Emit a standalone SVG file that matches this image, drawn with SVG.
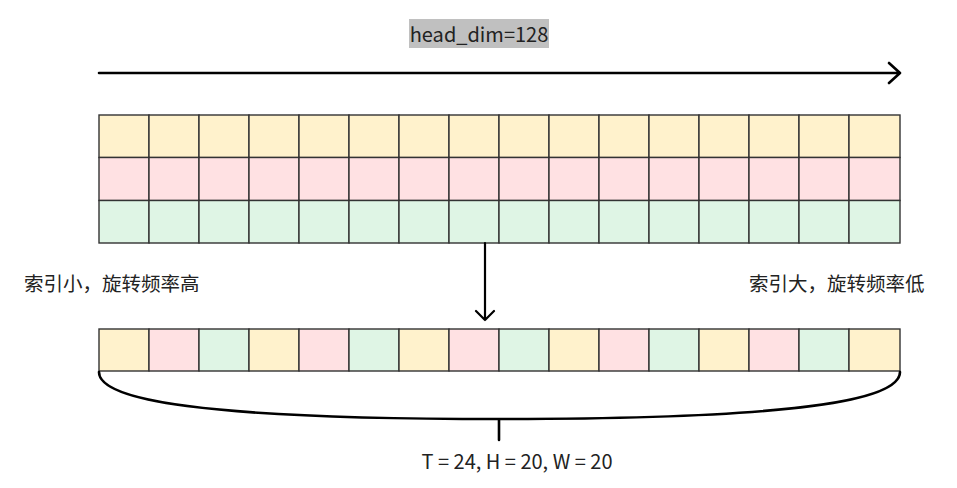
<svg xmlns="http://www.w3.org/2000/svg" width="957" height="488" viewBox="0 0 957 488">
<style>
.y{fill:#fff2cc}
.p{fill:#ffe1e3}
.g{fill:#dff5e5}
.cell rect{stroke:#333;stroke-width:1.4}
.t{font-family:"Noto Sans CJK SC","Noto Sans",sans-serif;fill:#222}
.ln{stroke:#000;fill:none;stroke-linecap:round;stroke-linejoin:round}
</style>
<rect width="957" height="488" fill="#fff"/>
<g id="title">
<rect x="409" y="19" width="140" height="29" fill="#c0c0c0"/>
<text class="t" x="479" y="42" font-size="20" text-anchor="middle">head_dim=128</text>
</g>
<g id="grid-top" class="cell">
<rect class="y" x="99" y="115" width="50" height="42.5"/><rect class="y" x="149" y="115" width="50" height="42.5"/><rect class="y" x="199" y="115" width="50" height="42.5"/><rect class="y" x="249" y="115" width="50" height="42.5"/><rect class="y" x="299" y="115" width="50" height="42.5"/><rect class="y" x="349" y="115" width="50" height="42.5"/><rect class="y" x="399" y="115" width="50" height="42.5"/><rect class="y" x="449" y="115" width="50" height="42.5"/><rect class="y" x="499" y="115" width="50" height="42.5"/><rect class="y" x="549" y="115" width="50" height="42.5"/><rect class="y" x="599" y="115" width="50" height="42.5"/><rect class="y" x="649" y="115" width="50" height="42.5"/><rect class="y" x="699" y="115" width="50" height="42.5"/><rect class="y" x="749" y="115" width="50" height="42.5"/><rect class="y" x="799" y="115" width="50" height="42.5"/><rect class="y" x="849" y="115" width="51" height="42.5"/>
<rect class="p" x="99" y="157.5" width="50" height="43"/><rect class="p" x="149" y="157.5" width="50" height="43"/><rect class="p" x="199" y="157.5" width="50" height="43"/><rect class="p" x="249" y="157.5" width="50" height="43"/><rect class="p" x="299" y="157.5" width="50" height="43"/><rect class="p" x="349" y="157.5" width="50" height="43"/><rect class="p" x="399" y="157.5" width="50" height="43"/><rect class="p" x="449" y="157.5" width="50" height="43"/><rect class="p" x="499" y="157.5" width="50" height="43"/><rect class="p" x="549" y="157.5" width="50" height="43"/><rect class="p" x="599" y="157.5" width="50" height="43"/><rect class="p" x="649" y="157.5" width="50" height="43"/><rect class="p" x="699" y="157.5" width="50" height="43"/><rect class="p" x="749" y="157.5" width="50" height="43"/><rect class="p" x="799" y="157.5" width="50" height="43"/><rect class="p" x="849" y="157.5" width="51" height="43"/>
<rect class="g" x="99" y="200.5" width="50" height="42.5"/><rect class="g" x="149" y="200.5" width="50" height="42.5"/><rect class="g" x="199" y="200.5" width="50" height="42.5"/><rect class="g" x="249" y="200.5" width="50" height="42.5"/><rect class="g" x="299" y="200.5" width="50" height="42.5"/><rect class="g" x="349" y="200.5" width="50" height="42.5"/><rect class="g" x="399" y="200.5" width="50" height="42.5"/><rect class="g" x="449" y="200.5" width="50" height="42.5"/><rect class="g" x="499" y="200.5" width="50" height="42.5"/><rect class="g" x="549" y="200.5" width="50" height="42.5"/><rect class="g" x="599" y="200.5" width="50" height="42.5"/><rect class="g" x="649" y="200.5" width="50" height="42.5"/><rect class="g" x="699" y="200.5" width="50" height="42.5"/><rect class="g" x="749" y="200.5" width="50" height="42.5"/><rect class="g" x="799" y="200.5" width="50" height="42.5"/><rect class="g" x="849" y="200.5" width="51" height="42.5"/>
</g>
<g id="grid-bottom" class="cell">
<rect class="y" x="99" y="329" width="50" height="42"/><rect class="p" x="149" y="329" width="50" height="42"/><rect class="g" x="199" y="329" width="50" height="42"/><rect class="y" x="249" y="329" width="50" height="42"/><rect class="p" x="299" y="329" width="50" height="42"/><rect class="g" x="349" y="329" width="50" height="42"/><rect class="y" x="399" y="329" width="50" height="42"/><rect class="p" x="449" y="329" width="50" height="42"/><rect class="g" x="499" y="329" width="50" height="42"/><rect class="y" x="549" y="329" width="50" height="42"/><rect class="p" x="599" y="329" width="50" height="42"/><rect class="g" x="649" y="329" width="50" height="42"/><rect class="y" x="699" y="329" width="50" height="42"/><rect class="p" x="749" y="329" width="50" height="42"/><rect class="g" x="799" y="329" width="50" height="42"/><rect class="y" x="849" y="329" width="51" height="42"/>
</g>
<g id="label-left"><text class="t" x="24" y="291" font-size="19.5">索引小，旋转频率高</text></g>
<g id="label-right"><text class="t" x="749" y="291" font-size="19.5">索引大，旋转频率低</text></g>
<g id="label-bottom"><text class="t" x="517" y="469" font-size="20" text-anchor="middle">T = 24, H = 20, W = 20</text></g>
<g id="connectors">
<path class="ln" d="M99,73 H899 M889,63 L900,73 L889,83" stroke-width="2.6"/>
<path class="ln" d="M485,243 V320 M476,311 L485,320 L494,311" stroke-width="2.2"/>
<path class="ln" d="M99,372 C99,400 200,419 499,419 C800,419 900,400 900,372 M499,419 V440" stroke-width="2.6"/>
</g>
</svg>
